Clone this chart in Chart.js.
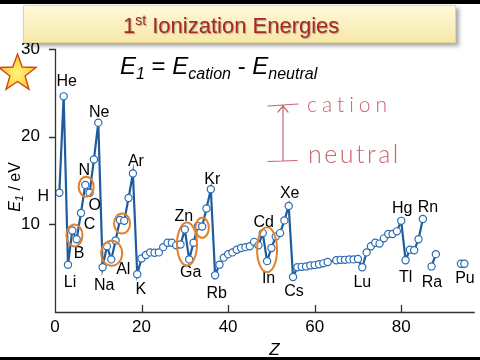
<!DOCTYPE html>
<html><head><meta charset="utf-8">
<script src="https://cdn.jsdelivr.net/npm/chart.js@4.4.1/dist/chart.umd.min.js"></script>
<style>html,body{margin:0;padding:0;background:#fff;overflow:hidden}#wrap{width:480px;height:360px;position:relative}</style>
</head><body><div id="wrap"><canvas id="c" width="480" height="360"></canvas></div>
<script>
// ---- data ----
const atomicNumbers = [
  1,2,3,4,5,6,7,8,9,10,
  11,12,13,14,15,16,17,18,
  19,20,21,22,23,24,25,26,27,28,29,30,31,32,33,34,35,36,
  37,38,39,40,41,42,43,44,45,46,47,48,49,50,51,52,53,54,
  55,56,57,58,59,60,61,62,63,65,66,67,68,69,70,71,
  72,73,74,75,76,77,78,79,80,81,82,83,84,85,
  86,87,88,90,93.8,94.6
];
const ionizationEnergies = [
  13.6,24.6,5.4,9.3,8.3,11.3,14.5,13.6,17.4,21.6,
  5.1,7.5,6.0,8.15,10.5,10.4,13.0,15.8,
  4.3,6.1,6.5,6.8,6.75,6.8,7.4,7.9,7.9,7.6,7.7,9.4,6.0,7.9,9.8,9.75,11.8,14.0,
  4.2,5.4,6.2,6.6,6.8,7.1,7.3,7.4,7.5,8.0,7.6,9.0,5.8,7.3,8.6,9.0,10.45,12.1,
  4.0,5.1,5.15,5.2,5.3,5.35,5.45,5.55,5.7,5.9,5.95,5.95,6.0,6.0,6.05,5.1,
  6.8,7.5,7.9,7.8,8.4,8.9,8.9,9.2,10.4,5.9,7.1,7.05,8.3,10.6,
  null,5.2,6.6,null,5.5,5.5
];
const xTickValues = [0,20,40,60,80];
const yTickValues = [10,20,30];
const labelSymbols = ['H','He','Li','B','C','N','O','Ne','Na','Al','Ar','K','Zn','Ga','Kr','Rb','Cd','In','Xe','Cs','Lu','Hg','Tl','Rn','Ra','Pu'];
const labelAtZ     = [1,2,3,5,6,7,8,10,11,13,18,19,30,31,36,37,48,49,54,55,71,80,81,85,87,93.8];
const circledZ = [4.5,7.2,13.1,15.5,30.5,34.0,49.0];
const circledE = [8.74,14.3,6.7,10.1,7.75,9.6,7.1];

// ---- layout / style (pixel offsets, sizes) ----
const labelOffsets = [[-16,4],[3,-15],[2,18],[2.5,14],[8.5,12],[-1,-14],[5,13],[1,-10],[1.5,18],[12,10.5],[3,-12],[3.5,15],[-1,-13],[1.5,13],[1.5,-10],[1.5,18],[1,-11],[1.5,17],[1,-12],[1,15],[0,15],[1,-12],[0,17],[5,-11],[0.5,16],[4,15]];
const circleSizes = [[8,11],[7.5,10],[10.5,12.5],[8,10],[10,21.5],[6.7,10],[10,22.5]];
const FONT = "'Liberation Sans', Arial, Helvetica, sans-serif";

function runs(ctx, x, y, list) {
  for (const r of list) {
    ctx.font = r.f;
    ctx.fillText(r.t, x, y + (r.dy || 0));
    x += ctx.measureText(r.t).width;
  }
  return x;
}
function runsWidth(ctx, list) {
  let w = 0;
  for (const r of list) { ctx.font = r.f; w += ctx.measureText(r.t).width; }
  return w;
}

const overlay = {
  id: 'overlay',
  afterDatasetsDraw(chart) {
    const ctx = chart.ctx, xs = chart.scales.x, ys = chart.scales.y, ca = chart.chartArea;
    ctx.save();
    // axes lines
    ctx.strokeStyle = '#333'; ctx.lineWidth = 1.3;
    ctx.beginPath();
    ctx.moveTo(ca.left + 0.5, ys.getPixelForValue(30));
    ctx.lineTo(ca.left + 0.5, ca.bottom + 0.5);
    ctx.lineTo(ca.right, ca.bottom + 0.5);
    ctx.stroke();
    // x ticks (inward)
    ctx.beginPath();
    for (const v of xTickValues) {
      if (v === 0) continue;
      const px = Math.round(xs.getPixelForValue(v)) + 0.5;
      ctx.moveTo(px, ca.bottom); ctx.lineTo(px, ca.bottom - 7);
    }
    // y ticks (outward)
    for (const v of yTickValues) {
      const py = Math.round(ys.getPixelForValue(v)) + 0.5;
      ctx.moveTo(ca.left + 0.5, py); ctx.lineTo(ca.left - 6, py);
    }
    ctx.stroke();

    // element labels
    ctx.fillStyle = '#000';
    ctx.font = '16px ' + FONT;
    ctx.textAlign = 'center'; ctx.textBaseline = 'middle';
    labelSymbols.forEach((s, i) => {
      const z = labelAtZ[i];
      const e = ionizationEnergies[atomicNumbers.indexOf(z)];
      const px = xs.getPixelForValue(z) + labelOffsets[i][0];
      const py = ys.getPixelForValue(e) + labelOffsets[i][1];
      ctx.fillText(s, px, py);
    });

    // orange ellipses
    ctx.strokeStyle = '#E47F2C'; ctx.lineWidth = 2;
    circledZ.forEach((z, i) => {
      ctx.beginPath();
      ctx.ellipse(xs.getPixelForValue(z), ys.getPixelForValue(circledE[i]), circleSizes[i][0], circleSizes[i][1], 0, 0, Math.PI * 2);
      ctx.stroke();
    });

    // axis titles
    ctx.textAlign = 'left'; ctx.textBaseline = 'alphabetic';
    ctx.fillStyle = '#000';
    ctx.font = 'italic 17px ' + FONT;
    const zw = ctx.measureText('Z').width;
    ctx.fillText('Z', 274.5 - zw / 2, 355);
    const yt = [{t:'E', f:'italic 16px ' + FONT},{t:'1', f:'italic 11px ' + FONT, dy:3},{t:' / eV', f:'16px ' + FONT}];
    ctx.save();
    ctx.translate(20, 187); ctx.rotate(-Math.PI / 2);
    runs(ctx, -runsWidth(ctx, yt) / 2, 0, yt);
    ctx.restore();

    // frame bars
    ctx.fillStyle = '#000';
    ctx.fillRect(0, 0, 480, 4);
    ctx.fillRect(0, 357, 480, 3);

    // title box
    ctx.save();
    ctx.shadowColor = 'rgba(0,0,0,0.35)'; ctx.shadowBlur = 4; ctx.shadowOffsetX = 3; ctx.shadowOffsetY = 3;
    const g = ctx.createLinearGradient(0, 5, 0, 43);
    g.addColorStop(0, '#FFFADA'); g.addColorStop(1, '#F6E8A6');
    ctx.fillStyle = g;
    ctx.fillRect(23, 5, 433, 38);
    ctx.restore();
    ctx.strokeStyle = '#E6D691'; ctx.lineWidth = 1;
    ctx.strokeRect(23.5, 5.5, 432, 37);
    ctx.save();
    ctx.fillStyle = '#A8262C';
    ctx.shadowColor = 'rgba(0,0,0,0.3)'; ctx.shadowOffsetX = 1; ctx.shadowOffsetY = 1; ctx.shadowBlur = 1;
    runs(ctx, 123, 33, [{t:'1', f:'22px ' + FONT},{t:'st', f:'14px ' + FONT, dy:-8},{t:' Ionization Energies', f:'22px ' + FONT}]);
    ctx.restore();

    // star
    ctx.save();
    const cx = 17.5, cy = 73.5, R = 19.5, r = 8;
    ctx.beginPath();
    for (let k = 0; k < 10; k++) {
      const a = -Math.PI / 2 + k * Math.PI / 5, rr = k % 2 ? r : R;
      const px = cx + rr * Math.cos(a), py = cy + rr * Math.sin(a);
      k ? ctx.lineTo(px, py) : ctx.moveTo(px, py);
    }
    ctx.closePath();
    const sg = ctx.createRadialGradient(cx, cy, 2, cx, cy, R);
    sg.addColorStop(0, '#FFF07A'); sg.addColorStop(1, '#FFC81E');
    ctx.fillStyle = sg; ctx.fill();
    ctx.strokeStyle = '#D2451E'; ctx.lineWidth = 1.4; ctx.stroke();
    ctx.restore();

    // equation
    ctx.fillStyle = '#000';
    runs(ctx, 120, 74, [
      {t:'E', f:'italic 24px ' + FONT},{t:'1', f:'italic 16px ' + FONT, dy:5},
      {t:' = ', f:'24px ' + FONT},
      {t:'E', f:'italic 24px ' + FONT},{t:'cation', f:'italic 16px ' + FONT, dy:5},
      {t:' - ', f:'24px ' + FONT},
      {t:'E', f:'italic 24px ' + FONT},{t:'neutral', f:'italic 16px ' + FONT, dy:5}
    ]);

    // handwritten annotation
    ctx.strokeStyle = '#C9636C'; ctx.fillStyle = '#C9636C'; ctx.lineWidth = 1.2; ctx.lineCap = 'round';
    ctx.beginPath();
    ctx.moveTo(268, 106); ctx.lineTo(298, 104);
    ctx.moveTo(283, 106); ctx.lineTo(283, 161);
    ctx.moveTo(278, 112); ctx.lineTo(283, 106); ctx.lineTo(288, 112);
    ctx.moveTo(268, 161.5); ctx.lineTo(297, 160.5);
    ctx.stroke();
    ctx.font = "300 21px Lato, 'DejaVu Sans', sans-serif";
    ctx.letterSpacing = '5px';
    ctx.fillText('cation', 307, 112);
    ctx.font = "300 25px Lato, 'DejaVu Sans', sans-serif";
    ctx.letterSpacing = '2.5px';
    ctx.fillText('neutral', 308, 163);
    ctx.letterSpacing = '0px';
    ctx.restore();
  }
};

new Chart(document.getElementById('c').getContext('2d'), {
  type: 'scatter',
  data: {
    datasets: [{
      data: atomicNumbers.map((z, i) => ({ x: z, y: ionizationEnergies[i] })),
      showLine: true, spanGaps: false, tension: 0,
      borderColor: '#1E5C9E', borderWidth: 2.2,
      pointRadius: 3.6, pointBorderWidth: 1.2,
      pointBackgroundColor: '#fff', pointBorderColor: '#2A6CB2'
    }]
  },
  options: {
    responsive: false, animation: false, devicePixelRatio: 1,
    layout: { padding: { top: 49, right: 0, left: 0, bottom: 0 } },
    plugins: { legend: { display: false }, tooltip: { enabled: false } },
    scales: {
      x: {
        type: 'linear', min: 0, max: 97,
        afterFit(s) { s.height = 48; },
        grid: { display: false }, border: { display: false },
        ticks: { stepSize: 20, includeBounds: false, padding: -3, color: '#000', autoSkip: false, maxRotation: 0,
          font: { family: FONT, size: 17 },
          callback: v => xTickValues.includes(v) ? String(v) : '' }
      },
      y: {
        min: 0, max: 30,
        afterFit(s) { s.width = 55; },
        grid: { display: false }, border: { display: false },
        ticks: { stepSize: 10, padding: 7, color: '#000',
          font: { family: FONT, size: 17 },
          callback: v => yTickValues.includes(v) ? String(v) : '' }
      }
    }
  },
  plugins: [overlay]
});
</script></body></html>
